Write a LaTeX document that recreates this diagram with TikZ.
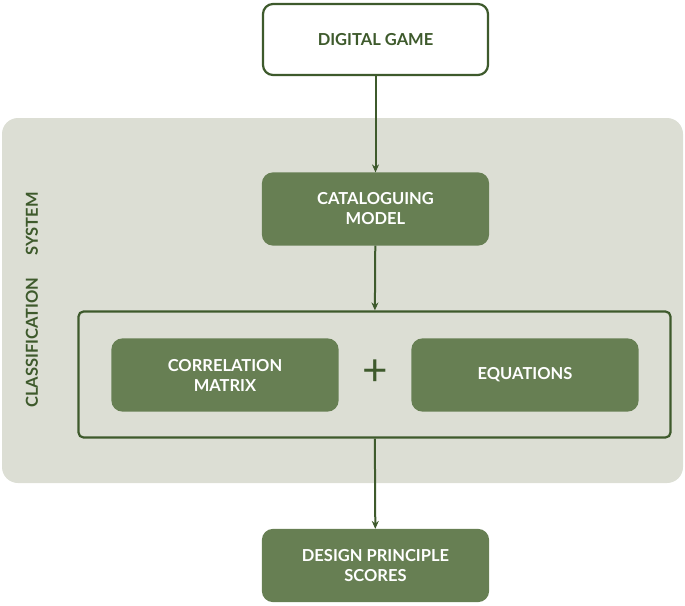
\documentclass[tikz,border=0pt]{standalone}
\usepackage{fontspec}
\setmainfont{Lato}
\usetikzlibrary{arrows.meta}
\definecolor{dg}{HTML}{3E5A2C}
\definecolor{mg}{HTML}{677F53}
\definecolor{pan}{HTML}{DCDED4}
\tikzset{
 fbox/.style={draw=dg,line width=2.2pt,rounded corners=10pt,minimum width=225pt,minimum height=71pt,align=center,font=\bfseries\fontsize{16.5}{20}\selectfont},
 gbox/.style={fbox,fill=mg,draw=mg,text=white},
 arr/.style={dg,line width=2pt,-{Stealth[length=8pt,width=7pt]}}
}
\begin{document}
\begin{tikzpicture}[x=1pt,y=-1pt]
\useasboundingbox (0,0) rectangle (685,605);
\fill[pan,rounded corners=16pt] (2,118) rectangle (683,483);
\node[fbox,fill=white,text=dg] (game) at (375.5,39.5) {DIGITAL GAME};
\node[gbox] (cat) at (375.5,209) {CATALOGUING\\MODEL};
\node[draw=dg,line width=2.2pt,rounded corners=5pt,minimum width=592pt,minimum height=126pt] (outer) at (374.5,374.5) {};
\node[gbox] (corr) at (225,375) {CORRELATION\\MATRIX};
\node[gbox] (eq) at (525,375) {EQUATIONS};
\node[text=dg,font=\fontsize{44}{44}\selectfont] (plus) at (375,373) {+};
\node[gbox] (dps) at (375.5,565.5) {DESIGN PRINCIPLE\\SCORES};
\node[rotate=90,text=dg,font=\bfseries\fontsize{16.5}{20}\selectfont] (cls) at (32,300) {CLASSIFICATION\hspace{22pt}SYSTEM};
\draw[arr] (game) -- (cat);
\draw[arr] (cat) -- (outer);
\draw[arr] (outer) -- (dps);
\end{tikzpicture}
\end{document}
